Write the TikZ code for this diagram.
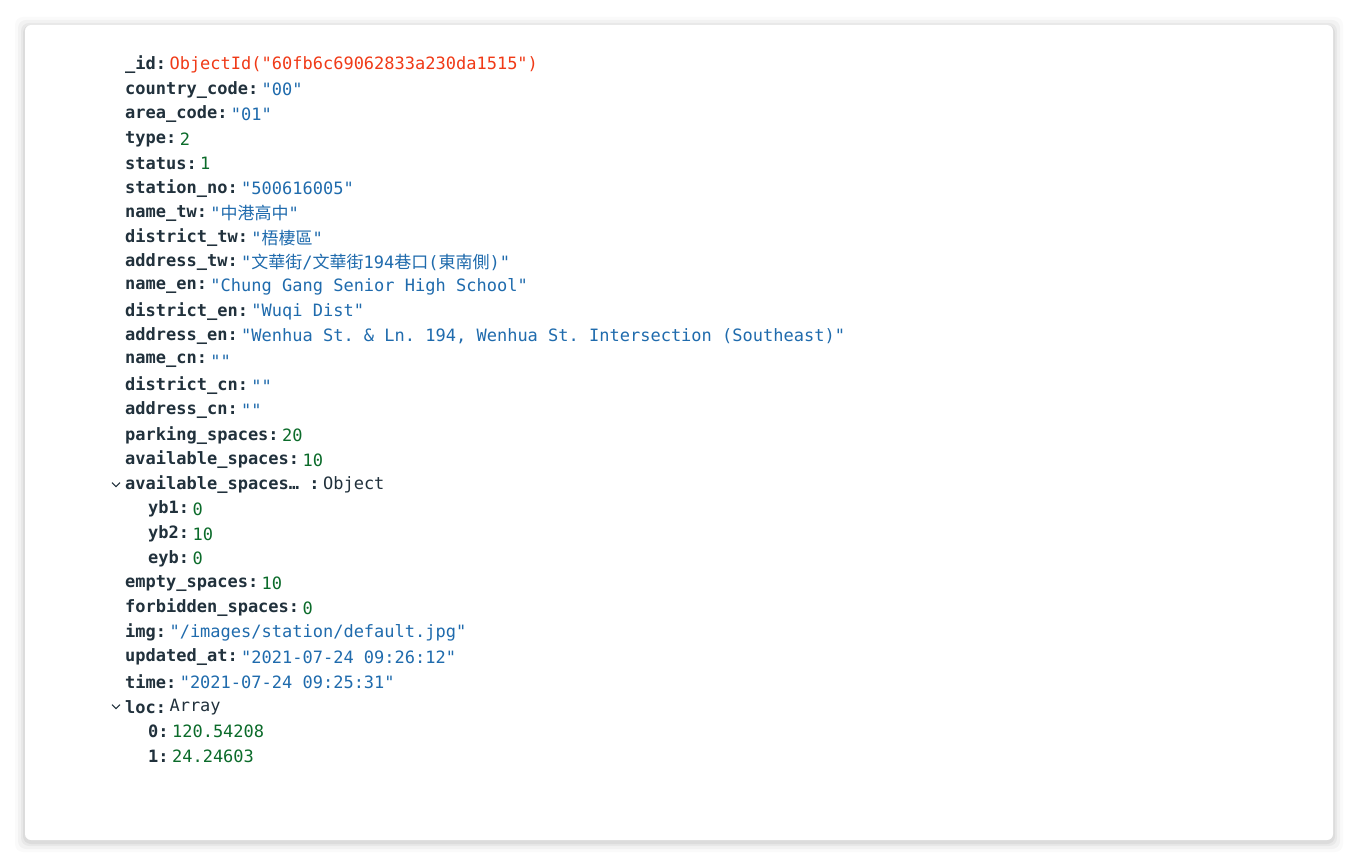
\documentclass[tikz,border=0pt]{standalone}
\usepackage{fontspec}
\setmonofont{DejaVu Sans Mono}
\newfontfamily\cjk{Noto Sans CJK TC}
\definecolor{kcol}{HTML}{21313C}
\definecolor{scol}{HTML}{1F6BAD}
\definecolor{ncol}{HTML}{0B6B2A}
\definecolor{rcol}{HTML}{F03A17}
\begin{document}
\begin{tikzpicture}[x=1pt,y=-1pt,
  key/.style={anchor=west,inner sep=0pt,font=\fontsize{17}{20}\selectfont\ttfamily\bfseries,text=kcol},
  val/.style={anchor=west,inner sep=0pt,font=\fontsize{17}{20}\selectfont\ttfamily},
  str/.style={val,text=scol},
  num/.style={val,text=ncol},
  oid/.style={val,text=rcol},
  typ/.style={val,text=kcol},
  chev/.style={draw=kcol,line width=1pt}]
\useasboundingbox (0,0) rectangle (1358,866);
\fill[white] (0,0) rectangle (1358,866);
\foreach \i/\o in {10/0.02,7/0.03,4/0.04,2/0.05}{
  \fill[black,opacity=\o,rounded corners=8] (25-\i,25-\i+2) rectangle (1333+\i,840+\i+2);}
\fill[white,rounded corners=6] (25,25) rectangle (1333,840);
\def\dy{24.68}
\newcommand\kv[5]{% row, x, key, style, value
  \node[key] (k#1) at (#2,{65+#1*\dy}) {#3:};
  \node[#4] (v#1) at ([xshift=3]k#1.east) {#5};}
\kv{0}{125}{\_id}{oid}{ObjectId("60fb6c69062833a230da1515")}
\kv{1}{125}{country\_code}{str}{"00"}
\kv{2}{125}{area\_code}{str}{"01"}
\kv{3}{125}{type}{num}{2}
\kv{4}{125}{status}{num}{1}
\kv{5}{125}{station\_no}{str}{"500616005"}
\kv{6}{125}{name\_tw}{str}{"{\cjk 中港高中}"}
\kv{7}{125}{district\_tw}{str}{"{\cjk 梧棲區}"}
\kv{8}{125}{address\_tw}{str}{"{\cjk 文華街}/{\cjk 文華街}194{\cjk 巷口}({\cjk 東南側})"}
\kv{9}{125}{name\_en}{str}{"Chung Gang Senior High School"}
\kv{10}{125}{district\_en}{str}{"Wuqi Dist"}
\kv{11}{125}{address\_en}{str}{"Wenhua St. \& Ln. 194, Wenhua St. Intersection (Southeast)"}
\kv{12}{125}{name\_cn}{str}{""}
\kv{13}{125}{district\_cn}{str}{""}
\kv{14}{125}{address\_cn}{str}{""}
\kv{15}{125}{parking\_spaces}{num}{20}
\kv{16}{125}{available\_spaces}{num}{10}
\node[key] (k17) at (125,{65+17*\dy}) {available\_spaces… :};
\node[typ] (v17) at ([xshift=3]k17.east) {Object};
\draw[chev] (112,{65+17*\dy-2}) -- (116,{65+17*\dy+2}) -- (120,{65+17*\dy-2});
\kv{18}{148}{yb1}{num}{0}
\kv{19}{148}{yb2}{num}{10}
\kv{20}{148}{eyb}{num}{0}
\kv{21}{125}{empty\_spaces}{num}{10}
\kv{22}{125}{forbidden\_spaces}{num}{0}
\kv{23}{125}{img}{str}{"/images/station/default.jpg"}
\kv{24}{125}{updated\_at}{str}{"2021-07-24 09:26:12"}
\kv{25}{125}{time}{str}{"2021-07-24 09:25:31"}
\kv{26}{125}{loc}{typ}{Array}
\draw[chev] (112,{65+26*\dy-2}) -- (116,{65+26*\dy+2}) -- (120,{65+26*\dy-2});
\kv{27}{148}{0}{num}{120.54208}
\kv{28}{148}{1}{num}{24.24603}
\end{tikzpicture}
\end{document}
